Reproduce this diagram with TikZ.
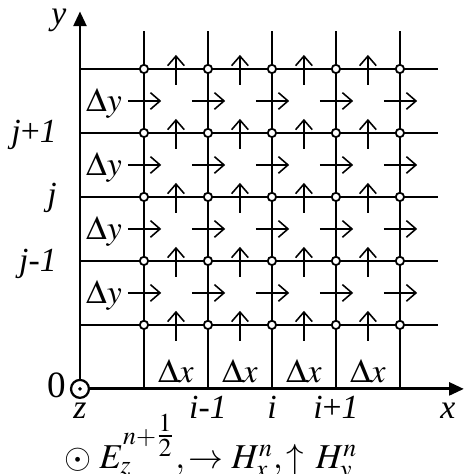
\documentclass[tikz,border=0pt]{standalone}
\usepackage{mathptmx}
\usepackage[no-math]{fontspec}
\setmainfont{Liberation Serif}
\usetikzlibrary{arrows.meta}

\tikzset{
  gridline/.style={line width=0.9pt},
  axisline/.style={-{Triangle[length=2.3mm,width=2mm]},line width=1.3pt},
  hfield/.style={-{Straight Barb[length=1.5mm,width=2.6mm]},line width=0.7pt},
  enode/.style={fill=white,line width=0.8pt}
}

\begin{document}
\begin{tikzpicture}[font=\fontsize{15}{18}\selectfont]
  \useasboundingbox (-1.25,-1.33) rectangle (6.156,6.078);
  \foreach \k in {1,...,5}{
    \draw[gridline] (\k,0)--(\k,5.6); %縦線
    \draw[gridline] (0,\k)--(5.6,\k); %横線
  }
  \draw[axisline] (0,0)--(6,0); %x軸
  \draw[axisline] (0,0)--(0,5.9); %y軸
  \foreach \i in {1.5,2.5,3.5,4.5}
    \foreach \j in {1,...,5}
      \draw[hfield] (\i,\j-0.25)--(\i,\j+0.22); %Hy
  \foreach \i in {1,...,5}
    \foreach \j in {1.5,2.5,3.5,4.5}
      \draw[hfield] (\i-0.25,\j)--(\i+0.27,\j); %Hx
  \foreach \i in {1,...,5}
    \foreach \j in {1,...,5}
      \draw[enode] (\i,\j) circle (0.065); %Ez
  \draw[enode,line width=1pt] (0,0) circle (0.14); %原点
  \fill (0,0) circle (0.03);
  \foreach \j in {1,...,4}
    \node[anchor=base] (dy\j) at (0.375,\j+0.33) {$\Delta y$};
  \foreach \i in {1,...,4}
    \node[anchor=base] (dx\i) at (\i+0.5,0.1) {$\Delta x$};
  \node[anchor=base east] (jp) at (-0.24,3.85) {\textit{j}+\textit{1}};
  \node[anchor=base east] (j0) at (-0.24,2.87) {\textit{j}};
  \node[anchor=base east] (jm) at (-0.24,1.84) {\textit{j-1}};
  \node[anchor=base,font=\fontsize{16.5}{20}\selectfont] (o) at (-0.37,-0.14) {0};
  \node[anchor=base] (ylab) at (-0.33,5.69) {\textit{y}};
  \node[anchor=base] (zlab) at (0,-0.47) {\textit{z}};
  \node[anchor=base] (im) at (2,-0.47) {\textit{i-1}};
  \node[anchor=base] (i0) at (3,-0.47) {\textit{i}};
  \node[anchor=base] (ip) at (4,-0.47) {\textit{i}+\textit{1}};
  \node[anchor=base] (xlab) at (5.75,-0.47) {\textit{x}};
  \node[anchor=base west,inner sep=0pt,font=\fontsize{15.5}{18}\selectfont] (leg) at (-0.25,-1.25)
    {$\odot\; E_z^{n+{\textstyle\frac{1}{2}}}, \rightarrow H_x^n, \uparrow\, H_y^n$}; %凡例
\end{tikzpicture}
\end{document}
